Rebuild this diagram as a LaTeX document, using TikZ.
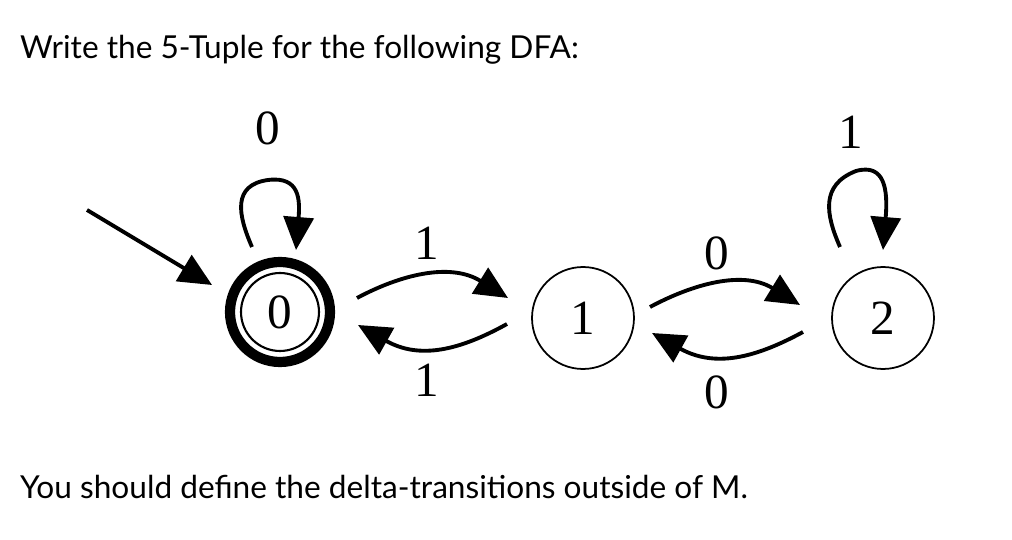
\documentclass[tikz,border=0pt]{standalone}
\usepackage{fontspec}
\setmainfont{Lato}
\newfontfamily\dig{Liberation Serif}
\usetikzlibrary{arrows.meta}
\begin{document}
\begin{tikzpicture}[x=0.02cm,y=-0.02cm,
  edge/.style={line width=2.2pt,-{Triangle[length=0.66cm,width=0.6cm]}},
  lbl/.style={font=\dig\fontsize{28}{32}\selectfont},
  st/.style={circle,draw,line width=1pt,minimum size=2.04cm,inner sep=0pt,font=\dig\fontsize{28}{32}\selectfont},
  txt/.style={anchor=west,font=\fontsize{18}{21}\selectfont}]
\useasboundingbox (0,0) rectangle (1012,540);
\node[txt] (t1) at (14,50) {Write the 5-Tuple for the following DFA:};
\node[txt] (t2) at (14,487) {You should define the delta-transitions outside of M.};
\node[st,minimum size=1.56cm,line width=1.2pt] (q0) at (280,312) {0};
\draw[line width=5.8pt] (q0.center) circle (50);
\node[st] (q1) at (583,318) {1};
\node[st] (q2) at (883,318) {2};
\coordinate (i0) at (87,210);
\coordinate (i1) at (212,285);
\draw[edge] (i0) -- (i1);
\coordinate (a0) at (357,298); \coordinate (a1) at (508,298);
\draw[edge] (a0) .. controls (400,275) and (450,262) .. (a1);
\coordinate (b0) at (507,324); \coordinate (b1) at (358,325);
\draw[edge] (b0) .. controls (460,350) and (420,360) .. (b1);
\coordinate (c0) at (650,307); \coordinate (c1) at (800,305);
\draw[edge] (c0) .. controls (693,284) and (743,270) .. (c1);
\coordinate (d0) at (803,332); \coordinate (d1) at (652,333);
\draw[edge] (d0) .. controls (755,358) and (715,368) .. (d1);
\coordinate (l0) at (252,247); \coordinate (l1) at (296,250);
\draw[edge] (l0) .. controls (238,215) and (232,185) .. (268,180) .. controls (300,176) and (300,200) .. (l1);
\coordinate (m0) at (840,247); \coordinate (m1) at (883,250);
\draw[edge] (m0) .. controls (826,215) and (820,185) .. (856,171) .. controls (885,163) and (888,190) .. (m1);
\node[lbl] (n1) at (268,128) {0};
\node[lbl] (n2) at (427,243) {1};
\node[lbl] (n3) at (427,380) {1};
\node[lbl] (n4) at (717,253) {0};
\node[lbl] (n5) at (717,392) {0};
\node[lbl] (n6) at (851,132) {1};
\end{tikzpicture}
\end{document}
